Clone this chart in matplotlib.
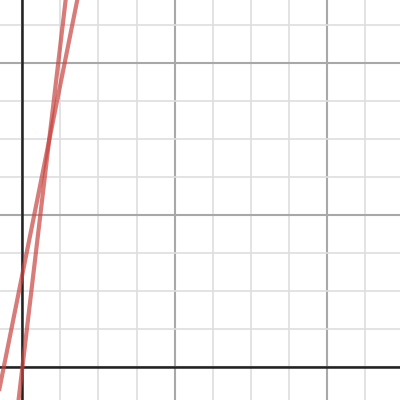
import numpy as np
import matplotlib
matplotlib.use("Agg")
from matplotlib import pyplot as plt

# two straight lines y = m*x + b
slopes = [5.0, 8.5]
intercepts = [2.45, 0.0]

x_range = [-0.59, 9.93]
y_range = [-0.87, 9.66]

minor_step = 1
major_step = 4

fig = plt.figure(figsize=(4, 4), dpi=100)
ax = fig.add_axes([0, 0, 1, 1])
ax.set_xlim(x_range)
ax.set_ylim(y_range)

major_col = "#a8a8a8"
minor_col = "#dedede"

# grid
for gx in np.arange(-1, x_range[1] + 1, minor_step):
    major = gx % major_step == 0
    ax.axvline(gx, color=major_col if major else minor_col,
               lw=1.5 if major else 1.2, zorder=1)
for gy in np.arange(-1, y_range[1] + 1, minor_step):
    major = gy % major_step == 0
    ax.axhline(gy, color=major_col if major else minor_col,
               lw=1.5 if major else 1.2, zorder=1)

# main axes
ax.axvline(0, color="#222222", lw=1.8, zorder=2)
ax.axhline(0, color="#222222", lw=1.8, zorder=2)

xs = np.array([x_range[0] - 1, x_range[1] + 1])
for m, b in zip(slopes, intercepts):
    ax.plot(xs, m * xs + b, color="#c74440", alpha=0.7, lw=3.0, zorder=3,
            solid_capstyle="butt")

ax.set_xticks([])
ax.set_yticks([])
for s in ax.spines.values():
    s.set_visible(False)

fig.savefig("out.png", dpi=100)
